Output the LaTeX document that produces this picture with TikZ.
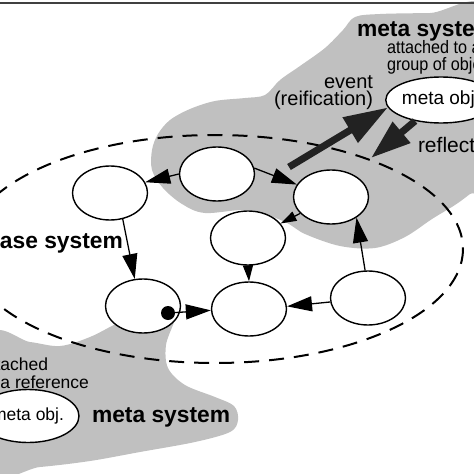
\documentclass[tikz,border=0pt]{standalone}
\usepackage{fontspec}
\setmainfont{Liberation Sans}
\newfontfamily\narrowsans[FakeStretch=0.9]{Liberation Sans}
\usetikzlibrary{shapes.geometric,arrows.meta}
\definecolor{metagray}{RGB}{192,192,192}
\definecolor{arrowgray}{RGB}{34,34,34}
\begin{document}
\begin{tikzpicture}[x=1pt,y=-1pt,
  obj/.style={ellipse, draw, line width=1.4pt, fill=white, minimum width=75pt, minimum height=54pt, inner sep=0pt},
  metaobj/.style={ellipse, draw, line width=1.4pt, fill=white, inner sep=0pt},
  edge/.style={line width=1.3pt, -{Triangle[length=25pt,width=15pt]}},
  shortedge/.style={line width=1.3pt, -{Triangle[length=16pt,width=10pt]}},
  bigarrow/.style={line width=7pt, draw=arrowgray, -{Triangle[length=44pt,width=28pt,fill=arrowgray]}},
  lbl/.style={inner sep=0pt, outer sep=0pt},
  boldlbl/.style={lbl, font=\fontsize{22.8}{26}\selectfont\bfseries},
  midlbl/.style={lbl, font=\fontsize{20}{17}\selectfont},
  smalllbl/.style={lbl, font=\narrowsans\fontsize{18}{17}\selectfont},
  reflbl/.style={lbl, font=\fontsize{17.5}{18}\selectfont}
]
\useasboundingbox (0,0) rectangle (474,474);
\clip (0,0) rectangle (474,474);

% gray meta-system regions
\fill[metagray] plot[smooth cycle, tension=0.55] coordinates {
  (280,80) (300,66) (325,48) (343,30) (355,17) (380,14) (430,13) (490,12)
  (490,178) (470,194) (455,205) (432,219) (405,237) (375,248) (340,246)
  (305,234) (285,222) (250,210) (205,213) (182,204) (163,188) (152,170)
  (152,150) (158,134) (170,120) (190,109) (215,101) (245,98) (265,95)};
\fill[metagray] plot[smooth cycle, tension=0.55] coordinates {
  (-10,338) (30,342) (60,346) (90,337) (120,322) (150,311) (168,305)
  (177,307) (174,322) (166,345) (168,368) (185,385) (215,397) (234,406)
  (238,420) (230,432) (195,442) (140,452) (90,461) (40,467) (-10,470)};

% base system boundary
\draw[line width=2pt, dash pattern=on 15pt off 10pt] (215,249) ellipse [x radius=248, y radius=114];

% base objects
\node[obj] (A) at (110,193) {};
\node[obj] (B) at (217,174) {};
\node[obj] (C) at (331,197) {};
\node[obj] (D) at (248,238) {};
\node[obj] (E) at (143,306) {};
\node[obj] (F) at (249,309) {};
\node[obj] (G) at (368,298) {};

% meta objects
\node[metaobj, minimum width=104pt, minimum height=46pt, font=\fontsize{19}{22}\selectfont] (M1) at (441,100) {meta obj.};
\node[metaobj, minimum width=102pt, minimum height=53pt, font=\fontsize{17.5}{20}\selectfont] (M2) at (28,416) {meta obj.};

% references between objects
\draw[edge] (B.180) -- (A.17);
\draw[edge] (B.9) -- (C.160);
\draw[shortedge] (C.-152) -- (D.24);
\draw[edge] (A.-64) -- (E.107);
\draw[shortedge] (D.-90) -- (F.90);
\draw[edge] (G.186) -- (F.4);
\draw[edge] (G.96) -- (C.-39);
\node[circle, fill=black, minimum size=14pt, inner sep=0pt] (dot) at (168,313) {};
\draw[edge] (dot) -- (F.182);

% reification / reflection
\coordinate (ev0) at (289,167);
\coordinate (rf1) at (371,158);
\draw[bigarrow] (ev0) -- (M1.188);
\draw[bigarrow, -{Triangle[length=40pt,width=26pt,fill=arrowgray]}] (M1.219) -- (rf1);

% labels
\node[boldlbl, anchor=base west] (ms1) at (357,36) {meta system};
\node[smalllbl, anchor=base west, align=left] (att1) at (387,70) {attached to a\\group of objects};
\node[midlbl, anchor=base east, align=right] (ev) at (373,105) {event\\(reification)};
\node[lbl, font=\fontsize{21}{24}\selectfont, anchor=base west] (refl) at (418,152) {reflection};
\node[boldlbl, anchor=base west] (bs) at (-14,248) {base system};
\node[reflbl, anchor=base west, align=left] (att3) at (-19,388) {attached\\to a reference};
\node[boldlbl, anchor=base west] (ms2) at (92,422) {meta system};

% top rule
\draw[line width=1.2pt, black!75] (0,3) -- (474,3);
\end{tikzpicture}
\end{document}
